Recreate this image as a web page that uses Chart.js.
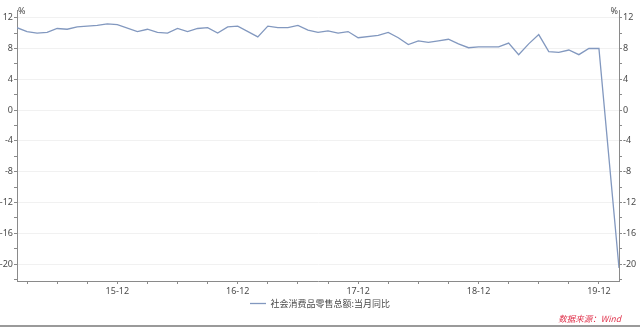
<!DOCTYPE html>
<html>
<head>
<meta charset="utf-8">
<script src="https://cdn.jsdelivr.net/npm/chart.js@4"></script>
<style>
  html, body { margin: 0; padding: 0; background: #fff; }
  #wrap { position: relative; width: 640px; height: 327px; }
  #source {
    position: absolute; right: 19px; bottom: 3px;
    font: italic 8.5px "Noto Sans CJK SC", sans-serif; color: #e0304a;
  }
  #rule { position: absolute; left: 0; right: 0; bottom: 0; height: 2px; background: #9a9a9a; }
</style>
</head>
<body>
<div id="wrap">
  <canvas id="chart" width="640" height="327"></canvas>
  <div id="source">数据来源：Wind</div>
  <div id="rule"></div>
</div>
<script>
// 社会消费品零售总额:当月同比 (%), 1-2月合并公布，故无1月
const months = [
  '2015-02','2015-03','2015-04','2015-05','2015-06','2015-07','2015-08','2015-09','2015-10','2015-11','2015-12',
  '2016-02','2016-03','2016-04','2016-05','2016-06','2016-07','2016-08','2016-09','2016-10','2016-11','2016-12',
  '2017-02','2017-03','2017-04','2017-05','2017-06','2017-07','2017-08','2017-09','2017-10','2017-11','2017-12',
  '2018-02','2018-03','2018-04','2018-05','2018-06','2018-07','2018-08','2018-09','2018-10','2018-11','2018-12',
  '2019-02','2019-03','2019-04','2019-05','2019-06','2019-07','2019-08','2019-09','2019-10','2019-11','2019-12',
  '2020-02'
]
const retailYoY = [
  10.7, 10.2, 10.0, 10.1, 10.6, 10.5, 10.8, 10.9, 11.0, 11.2, 11.1,
  10.2, 10.5, 10.1, 10.0, 10.6, 10.2, 10.6, 10.7, 10.0, 10.8, 10.9,
  9.5, 10.9, 10.7, 10.7, 11.0, 10.4, 10.1, 10.3, 10.0, 10.2, 9.4,
  9.7, 10.1, 9.4, 8.5, 9.0, 8.8, 9.0, 9.2, 8.6, 8.1, 8.2,
  8.2, 8.7, 7.2, 8.6, 9.8, 7.6, 7.5, 7.8, 7.2, 8.0, 8.0,
  -20.5
]
const seriesName = '社会消费品零售总额:当月同比'
const yTicks = [-22, -20, -18, -16, -14, -12, -10, -8, -6, -4, -2, 0, 2, 4, 6, 8, 10, 12]

// month index counted from 2015-01
function monthIndex(s) {
  const [y, m] = s.split('-').map(Number)
  return (y - 2015) * 12 + (m - 1)
}

const points = months.map((m, i) => ({ x: monthIndex(m), y: retailYoY[i] }))
const xMin = monthIndex(months[0])
const xMax = monthIndex(months[months.length - 1])
const xTicks = []
for (let v = xMin + 1; v < xMax; v += 3) xTicks.push(v)

const axisColor = '#8a8a8a'
const textColor = '#4a4a4a'
const tickFont = { family: 'Noto Sans', size: 9 }

const percentLabels = {
  id: 'percentLabels',
  afterDraw(chart) {
    const { ctx, chartArea } = chart
    ctx.save()
    ctx.fillStyle = textColor
    ctx.font = '9px "Noto Sans"'
    ctx.textBaseline = 'bottom'
    ctx.textAlign = 'left'
    ctx.fillText('%', chartArea.left + 1, chartArea.top + 6)
    ctx.textAlign = 'right'
    ctx.fillText('%', chartArea.right - 1, chartArea.top + 6)
    ctx.restore()
  }
}

const yAxis = (position) => ({
  position,
  min: -22.2,
  max: 13,
  afterBuildTicks(scale) { scale.ticks = yTicks.map(v => ({ value: v })) },
  afterFit(scale) { scale.width = position === 'left' ? 17 : 21 },
  border: { color: axisColor, width: 1 },
  grid: {
    drawOnChartArea: position === 'left',
    color: ctx => (ctx.tick && ctx.tick.value % 4 === 0) ? '#f1f1f1' : 'rgba(0,0,0,0)',
    tickColor: axisColor,
    tickLength: 3
  },
  ticks: {
    padding: 1,
    color: textColor,
    font: tickFont,
    callback: v => (v % 4 === 0 ? String(v) : '')
  }
})

new Chart(document.getElementById('chart'), {
  type: 'line',
  data: {
    datasets: [{
      label: seriesName,
      data: points,
      borderColor: '#8298bf',
      backgroundColor: '#8298bf',
      borderWidth: 1.3,
      pointRadius: 0,
      tension: 0,
      yAxisID: 'y'
    }]
  },
  options: {
    responsive: false,
    animation: false,
    layout: { padding: { top: 10, bottom: 9, left: 0, right: 0 } },
    plugins: {
      legend: {
        position: 'bottom',
        labels: {
          usePointStyle: true,
          pointStyle: 'line',
          pointStyleWidth: 16,
          boxHeight: 9,
          padding: 2,
          color: textColor,
          font: { family: 'Noto Sans CJK SC', size: 9 }
        }
      },
      tooltip: { enabled: false }
    },
    scales: {
      x: {
        type: 'linear',
        min: xMin,
        max: xMax,
        afterBuildTicks(scale) { scale.ticks = xTicks.map(v => ({ value: v })) },
        afterFit(scale) { scale.height = 16 },
        border: { color: axisColor, width: 1 },
        grid: { drawOnChartArea: false, tickColor: axisColor, tickLength: 3 },
        ticks: {
          autoSkip: false,
          maxRotation: 0,
          padding: 2,
          color: textColor,
          font: tickFont,
          callback: v => (v % 12 === 11 ? String(15 + Math.floor(v / 12)) + '-12' : '')
        }
      },
      y: yAxis('left'),
      y2: yAxis('right')
    }
  },
  plugins: [percentLabels]
})
</script>
</body>
</html>
